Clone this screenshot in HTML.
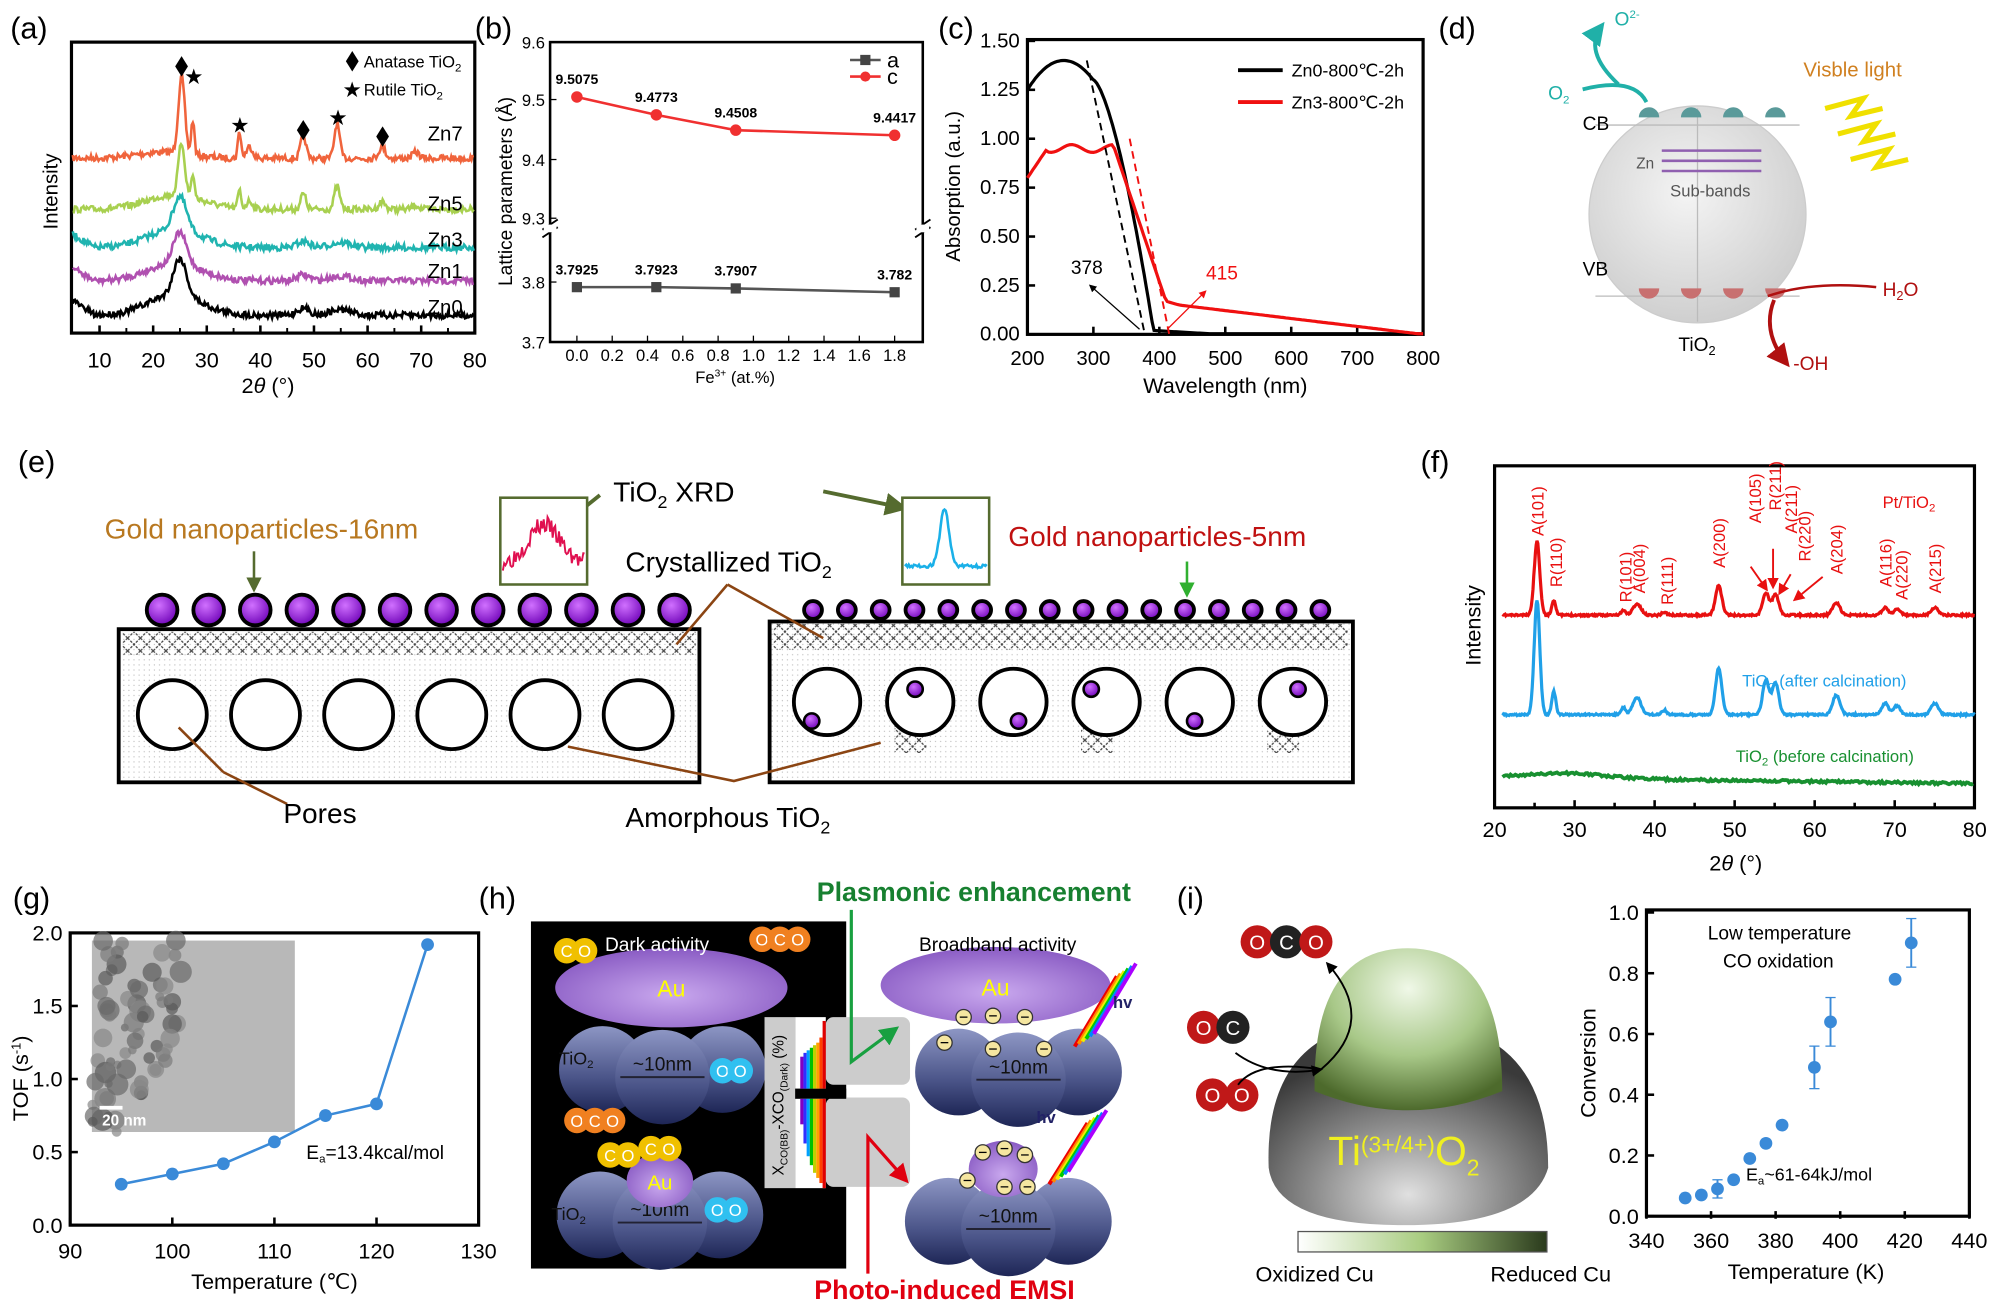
<!DOCTYPE html>
<html><head><meta charset="utf-8"><style>
html,body{margin:0;padding:0;background:#fff;}
svg{display:block;font-family:"Liberation Sans",sans-serif;}
</style></head><body>
<svg id="s" width="2000" height="1303" viewBox="0 0 1567 1021" preserveAspectRatio="none" xmlns="http://www.w3.org/2000/svg">
<defs>
<radialGradient id="sph" cx="45%" cy="40%" r="60%"><stop offset="0" stop-color="#f4f4f4"/><stop offset="1" stop-color="#cfcfcf"/></radialGradient>
<linearGradient id="ball" x1="0" y1="0" x2="0" y2="1"><stop offset="0" stop-color="#8d96c4"/><stop offset="0.6" stop-color="#4a5488"/><stop offset="1" stop-color="#1e2656"/></linearGradient>
<radialGradient id="au" cx="50%" cy="60%" r="60%"><stop offset="0" stop-color="#c9a8ee"/><stop offset="1" stop-color="#8a5cc4"/></radialGradient>
<radialGradient id="dome" cx="50%" cy="85%" r="70%"><stop offset="0" stop-color="#e0e0e0"/><stop offset="0.5" stop-color="#8a8a8a"/><stop offset="1" stop-color="#3a3a3a"/></radialGradient>
<radialGradient id="cap" cx="50%" cy="25%" r="75%"><stop offset="0" stop-color="#f0f8e8"/><stop offset="0.55" stop-color="#a8c888"/><stop offset="1" stop-color="#4d6a2c"/></radialGradient>
<linearGradient id="cbar" x1="0" x2="1"><stop offset="0" stop-color="#fff"/><stop offset="0.5" stop-color="#a8cc80"/><stop offset="1" stop-color="#2a3a1c"/></linearGradient>
<radialGradient id="pb" cx="40%" cy="35%" r="60%"><stop offset="0" stop-color="#d070ff"/><stop offset="1" stop-color="#7a10c0"/></radialGradient>
<pattern id="hatch" width="10" height="10" patternUnits="userSpaceOnUse"><path d="M0 0L10 10M10 0L0 10" stroke="#444" stroke-width="1" stroke-dasharray="2 1"/></pattern>
<pattern id="dots" width="4" height="4" patternUnits="userSpaceOnUse"><rect width="4" height="4" fill="#fff"/><circle cx="1" cy="1" r="0.5" fill="#bbb"/></pattern>
<marker id="ar" viewBox="0 0 10 10" refX="8" refY="5" markerWidth="6" markerHeight="6" orient="auto"><path d="M0 0L10 5L0 10z" fill="context-stroke"/></marker>
</defs>
<g id="g"></g>
</svg>
<script>
const g=document.getElementById('g');let H='';
const add=s=>H+=s;
let seed=7;const rnd=()=>{seed=(seed*16807)%2147483647;return seed/2147483647;};
const T=(x,y,t,o)=>add(`<text x="${x}" y="${y}" ${o||''}>${t}</text>`);
function curve(xs,ys,f,base,amp,noise,col,w,x0,x1,step){let d='';for(let v=x0;v<=x1;v+=step){const y=base-amp*f(v)+(rnd()-0.5)*noise;d+=(d?'L':'M')+(xs(v)).toFixed(1)+' '+y.toFixed(1);}add(`<path d="${d}" fill="none" stroke="${col}" stroke-width="${w}"/>`);}
const gs=(v,c,w)=>Math.exp(-((v-c)*(v-c))/(2*w*w));
// ---------- (a)
T(8,30,'(a)','font-size="24"');
add('<rect x="56" y="33" width="316" height="228" fill="none" stroke="#000" stroke-width="2.5"/>');
const xa=v=>78+(v-10)*4.2;
for(let v=10;v<=80;v+=10){add(`<line x1="${xa(v)}" y1="261" x2="${xa(v)}" y2="255" stroke="#000" stroke-width="2"/>`);T(xa(v),288,v,'font-size="17" text-anchor="middle"');}
for(let v=15;v<80;v+=10)add(`<line x1="${xa(v)}" y1="261" x2="${xa(v)}" y2="257" stroke="#000" stroke-width="1.5"/>`);
T(210,308,'2<tspan font-style="italic">θ</tspan> (°)','font-size="17" text-anchor="middle"');
T(45,150,'Intensity','font-size="16" text-anchor="middle" transform="rotate(-90 45 150)"');
const xrdA=(v,s)=>s*(gs(v,25.3,0.6)*1+gs(v,27.4,0.3)*0.45+gs(v,36.1,0.3)*0.35+gs(v,38,0.6)*0.15+gs(v,48,0.5)*0.3+gs(v,54.3,0.5)*0.45+gs(v,62.7,0.6)*0.15+gs(v,69,0.6)*0.08)+gs(v,22,5)*0.08;
const broad=(v)=>gs(v,25,1.2)*0.8+gs(v,24,5)*0.45+gs(v,48,1.2)*0.15+gs(v,55,2)*0.12+(v<9?(9-v)*0.08:0);
curve(xa,null,v=>xrdA(v,1),124,60,5,'#f0643c',2,5,80,0.2);
curve(xa,null,v=>xrdA(v,0.85)*0.6+gs(v,25,5)*0.1,164,80,5,'#a8d050',2,5,80,0.2);
curve(xa,null,v=>broad(v)*0.9,194,36,5,'#20b4b0',2,5,80,0.2);
curve(xa,null,v=>broad(v)*0.85,220,36,5,'#b050b0',2,5,80,0.2);
curve(xa,null,v=>broad(v)*1,247,36,5,'#000',2,5,80,0.2);
[['Zn7',110],['Zn5',165],['Zn3',193],['Zn1',218],['Zn0',246]].forEach(a=>T(335,a[1],a[0],'font-size="16"'));
const dia=(x,y)=>add(`<path d="M${x} ${y-8}L${x+5} ${y}L${x} ${y+8}L${x-5} ${y}z"/>`);
const star=(x,y)=>T(x,y+6,'★','font-size="17" text-anchor="middle"');
dia(xa(25.3),52);star(xa(27.6),60);star(xa(36.2),98);dia(xa(48),102);star(xa(54.5),92);dia(xa(62.8),107);
dia(276,48);T(285,53,'Anatase TiO<tspan font-size="9" dy="3">2</tspan>','font-size="13"');
star(276,70);T(285,75,'Rutile TiO<tspan font-size="9" dy="3">2</tspan>','font-size="13"');
// ---------- (b)
T(372,30,'(b)','font-size="24"');
add('<rect x="431" y="33" width="292" height="235" fill="none" stroke="#000" stroke-width="2"/>');
[['9.6',33],['9.5',78],['9.4',125],['9.3',171],['3.8',221],['3.7',268]].forEach(a=>{T(427,a[1]+5,a[0],'font-size="13" text-anchor="end"');add(`<line x1="431" y1="${a[1]}" x2="436" y2="${a[1]}" stroke="#000"/>`);});
add('<path d="M425 180L437 172M425 186L437 178M717 180L729 172M717 186L729 178" stroke="#000" stroke-width="1.5"/><rect x="426" y="176" width="10" height="6" fill="#fff"/><rect x="718" y="176" width="10" height="6" fill="#fff"/>');
const xb=v=>452+v*138.3;
for(let i=0;i<=9;i++){const v=i*0.2;add(`<line x1="${xb(v)}" y1="268" x2="${xb(v)}" y2="263" stroke="#000"/>`);T(xb(v),283,v.toFixed(1),'font-size="13" text-anchor="middle"');}
T(576,300,'Fe<tspan font-size="8" dy="-5">3+</tspan><tspan dy="5"> (at.%)</tspan>','font-size="13" text-anchor="middle"');
T(401,150,'Lattice parameters (Å)','font-size="15" text-anchor="middle" transform="rotate(-90 401 150)"');
const cp=[[0,76,'9.5075'],[0.45,90,'9.4773'],[0.9,102,'9.4508'],[1.8,106,'9.4417']];
add(`<path d="${cp.map((p,i)=>(i?'L':'M')+xb(p[0])+' '+p[1]).join('')}" stroke="#f03030" stroke-width="2" fill="none"/>`);
cp.forEach(p=>{add(`<circle cx="${xb(p[0])}" cy="${p[1]}" r="4.5" fill="#f03030"/>`);T(xb(p[0]),p[1]-10,p[2],'font-size="11" font-weight="bold" text-anchor="middle"');});
const ap=[[0,225,'3.7925'],[0.45,225,'3.7923'],[0.9,226,'3.7907'],[1.8,229,'3.782']];
add(`<path d="${ap.map((p,i)=>(i?'L':'M')+xb(p[0])+' '+p[1]).join('')}" stroke="#555" stroke-width="2" fill="none"/>`);
ap.forEach(p=>{add(`<rect x="${xb(p[0])-4}" y="${p[1]-4}" width="8" height="8" fill="#444"/>`);T(xb(p[0]),p[1]-10,p[2],'font-size="11" font-weight="bold" text-anchor="middle"');});
add('<line x1="666" y1="47" x2="690" y2="47" stroke="#555" stroke-width="2"/><rect x="674" y="43" width="8" height="8" fill="#444"/><text x="695" y="53" font-size="17">a</text>');
add('<line x1="666" y1="60" x2="690" y2="60" stroke="#f03030" stroke-width="2"/><circle cx="678" cy="60" r="4" fill="#f03030"/><text x="695" y="66" font-size="17">c</text>');
// ---------- (c)
T(735,30,'(c)','font-size="24"');
add('<rect x="805" y="31" width="310" height="231" fill="none" stroke="#000" stroke-width="2.5"/>');
const xc=v=>805+(v-200)*0.5167, yc=v=>262-v*153.3;
for(let v=200;v<=800;v+=100){add(`<line x1="${xc(v)}" y1="262" x2="${xc(v)}" y2="256" stroke="#000" stroke-width="2"/>`);T(xc(v),286,v,'font-size="16" text-anchor="middle"');}
for(let v=0;v<=1.5;v+=0.25){add(`<line x1="805" y1="${yc(v)}" x2="811" y2="${yc(v)}" stroke="#000" stroke-width="2"/>`);T(799,yc(v)+5,v.toFixed(2),'font-size="16" text-anchor="end"');}
T(960,308,'Wavelength (nm)','font-size="17" text-anchor="middle"');
T(752,146,'Absorption (a.u.)','font-size="16" text-anchor="middle" transform="rotate(-90 752 146)"');
let d='';for(let w=200;w<=800;w+=3){let a;if(w<=300)a=1.4-Math.pow((w-255)/55,2)*0.15;else if(w<392)a=1.3*(1-Math.pow((w-300)/92,1.5));else a=Math.max(0,0.02-(w-392)*0.0002);a=Math.max(a,0.003);d+=(d?'L':'M')+xc(w).toFixed(1)+' '+yc(a).toFixed(1);}
add(`<path d="${d}" stroke="#000" stroke-width="2.5" fill="none"/>`);
d='';for(let w=200;w<=800;w+=4){let a;if(w<230)a=0.8+(w-200)/30*0.15;else if(w<330)a=0.95+0.02*Math.sin(w/10);else if(w<410)a=0.97-(w-330)/80*0.8;else if(w<430)a=0.17-(w-410)/20*0.02;else a=0.15*(800-w)/370;d+=(d?'L':'M')+xc(w).toFixed(1)+' '+yc(Math.max(a,0.003)).toFixed(1);}
add(`<path d="${d}" stroke="#f01010" stroke-width="2.5" fill="none"/>`);
add(`<line x1="${xc(290)}" y1="${yc(1.4)}" x2="${xc(378)}" y2="262" stroke="#000" stroke-dasharray="6 4" stroke-width="1.5"/>`);
add(`<line x1="${xc(355)}" y1="${yc(1.0)}" x2="${xc(415)}" y2="262" stroke="#f01010" stroke-dasharray="6 4" stroke-width="1.5"/>`);
add(`<line x1="${xc(370)}" y1="258" x2="${xc(295)}" y2="${yc(0.25)}" stroke="#000" marker-end="url(#ar)"/>`);
T(xc(290),yc(0.27)-6,'378','font-size="15" text-anchor="middle"');
add(`<line x1="${xc(412)}" y1="258" x2="${xc(470)}" y2="${yc(0.22)}" stroke="#f01010" marker-end="url(#ar)"/>`);
T(xc(495),yc(0.28),'415','font-size="15" fill="#f01010" text-anchor="middle"');
add('<line x1="970" y1="55" x2="1005" y2="55" stroke="#000" stroke-width="3"/><text x="1012" y="60" font-size="14">Zn0-800℃-2h</text>');
add('<line x1="970" y1="80" x2="1005" y2="80" stroke="#f01010" stroke-width="3"/><text x="1012" y="85" font-size="14">Zn3-800℃-2h</text>');
// ---------- (d)
T(1127,30,'(d)','font-size="24"');
add('<circle cx="1330" cy="168" r="85" fill="url(#sph)" stroke="#ccc"/>');
add('<line x1="1330" y1="85" x2="1330" y2="252" stroke="#bbb"/><line x1="1250" y1="98" x2="1410" y2="98" stroke="#bbb"/><line x1="1250" y1="232" x2="1410" y2="232" stroke="#bbb"/>');
for(let i=0;i<4;i++){add(`<path d="M${1284+i*33} 92a8 8 0 0 1 16 0z" fill="#5a9a9a"/>`);add(`<path d="M${1284+i*33} 226a8 8 0 0 0 16 0z" fill="#c87070"/>`);}
add('<line x1="1302" y1="118" x2="1380" y2="118" stroke="#9060b0" stroke-width="2"/><line x1="1302" y1="126" x2="1380" y2="126" stroke="#9060b0" stroke-width="2"/><line x1="1302" y1="134" x2="1380" y2="134" stroke="#9060b0" stroke-width="2"/>');
T(1282,132,'Zn','font-size="12" fill="#555"');T(1340,154,'Sub-bands','font-size="13" fill="#555" text-anchor="middle"');
T(1240,102,'CB','font-size="15"');T(1240,216,'VB','font-size="15"');
T(1315,275,'TiO<tspan font-size="10" dy="3">2</tspan>','font-size="15"');
add('<path d="M1240 70Q1280 60 1290 80" stroke="#20b0a8" stroke-width="3" fill="none"/><path d="M1268 66Q1240 40 1255 20" stroke="#20b0a8" stroke-width="3" fill="none" marker-end="url(#ar)"/>');
T(1213,78,'O<tspan font-size="9" dy="3">2</tspan>','font-size="15" fill="#20b0a8"');T(1265,20,'O<tspan font-size="9" dy="-6">2-</tspan>','font-size="15" fill="#20b0a8"');
T(1413,60,'Visble light','font-size="16" fill="#d08020"');
for(let i=0;i<3;i++)add(`<path d="M${1430+i*10} ${85+i*20}l30 -8l-10 14l25 -6" stroke="#f0e000" stroke-width="4" fill="none"/>`);
add('<path d="M1390 235Q1380 260 1400 285" stroke="#b01010" stroke-width="3" fill="none" marker-end="url(#ar)"/><path d="M1385 232Q1420 220 1470 225" stroke="#b01010" stroke-width="2" fill="none"/>');
T(1475,232,'H<tspan font-size="10" dy="3">2</tspan><tspan dy="-3">O</tspan>','font-size="15" fill="#b01010"');T(1405,290,'-OH','font-size="15" fill="#b01010"');
// ---------- (e)
T(14,370,'(e)','font-size="24"');
add('<rect x="93" y="493" width="455" height="120" fill="url(#dots)" stroke="#000" stroke-width="3"/>');
add('<rect x="603" y="487" width="457" height="126" fill="url(#dots)" stroke="#000" stroke-width="3"/>');
add('<rect x="96" y="495" width="449" height="18" fill="url(#hatch)"/><rect x="606" y="489" width="450" height="20" fill="url(#hatch)"/>');
for(let i=0;i<12;i++)add(`<circle cx="${127+i*36.5}" cy="478" r="12" fill="url(#pb)" stroke="#000" stroke-width="3"/>`);
for(let i=0;i<16;i++)add(`<circle cx="${637+i*26.5}" cy="478" r="7" fill="url(#pb)" stroke="#000" stroke-width="3"/>`);
for(let i=0;i<6;i++)add(`<circle cx="${135+i*73}" cy="560" r="27" fill="#fff" stroke="#000" stroke-width="3"/>`);
for(let i=0;i<6;i++){const cx=648+i*73;add(`<rect x="${cx-20}" y="${540+(i%2)*25}" width="25" height="25" fill="url(#hatch)"/><circle cx="${cx}" cy="550" r="26" fill="#fff" stroke="#000" stroke-width="3"/><circle cx="${cx-12+(i%3)*8}" cy="${565-(i%2)*25}" r="6" fill="url(#pb)" stroke="#000" stroke-width="2"/>`);}
T(82,422,'Gold nanoparticles-16nm','font-size="22" fill="#b87820"');
T(790,428,'Gold nanoparticles-5nm','font-size="22" fill="#c01010"');
add('<line x1="199" y1="432" x2="199" y2="462" stroke="#556b2f" stroke-width="2" marker-end="url(#ar)"/><line x1="930" y1="440" x2="930" y2="466" stroke="#30b030" stroke-width="2" marker-end="url(#ar)"/>');
T(528,393,'TiO<tspan font-size="14" dy="5">2</tspan><tspan dy="-5"> XRD</tspan>','font-size="22" text-anchor="middle"');
add('<line x1="470" y1="388" x2="430" y2="420" stroke="#556b2f" stroke-width="3" marker-end="url(#ar)"/><line x1="645" y1="385" x2="708" y2="398" stroke="#556b2f" stroke-width="3" marker-end="url(#ar)"/>');
add('<rect x="392" y="390" width="68" height="68" fill="#fff" stroke="#556b2f" stroke-width="2"/><rect x="707" y="390" width="68" height="68" fill="#fff" stroke="#556b2f" stroke-width="2"/>');
seed=3;d='';for(let i=0;i<=64;i++){const x=394+i,y=448-30*gs(i,32,12)-rnd()*14;d+=(d?'L':'M')+x+' '+y.toFixed(1);}add(`<path d="${d}" stroke="#e01050" stroke-width="1.5" fill="none"/>`);
d='';for(let i=0;i<=64;i++){const x=709+i,y=445-45*gs(i,31,3.5)-rnd()*3;d+=(d?'L':'M')+x+' '+y.toFixed(1);}add(`<path d="${d}" stroke="#1ab0e8" stroke-width="2" fill="none"/>`);
T(490,448,'Crystallized TiO<tspan font-size="14" dy="5">2</tspan>','font-size="22"');
add('<path d="M570 458L530 505M570 458L645 500" stroke="#8b4513" stroke-width="2" fill="none"/><path d="M445 585L575 612L690 582M175 605L225 630M140 570L175 605" stroke="#8b4513" stroke-width="2" fill="none"/>');
T(222,645,'Pores','font-size="22"');T(490,648,'Amorphous TiO<tspan font-size="14" dy="5">2</tspan>','font-size="22"');
// ---------- (f)
T(1113,370,'(f)','font-size="24"');
add('<rect x="1171" y="365" width="376" height="268" fill="none" stroke="#000" stroke-width="2.5"/>');
const xf=v=>1171+(v-20)*6.27;
for(let v=20;v<=80;v+=10){add(`<line x1="${xf(v)}" y1="633" x2="${xf(v)}" y2="627" stroke="#000" stroke-width="2"/>`);T(xf(v),656,v,'font-size="17" text-anchor="middle"');}
for(let v=25;v<80;v+=10)add(`<line x1="${xf(v)}" y1="633" x2="${xf(v)}" y2="629" stroke="#000" stroke-width="2"/>`);
T(1360,682,'2<tspan font-style="italic">θ</tspan> (°)','font-size="17" text-anchor="middle"');
T(1160,490,'Intensity','font-size="17" text-anchor="middle" transform="rotate(-90 1160 490)"');
const xrdF=v=>gs(v,25.3,0.35)+gs(v,27.4,0.25)*0.2+gs(v,36.1,0.3)*0.06+gs(v,37.8,0.5)*0.15+gs(v,41.2,0.3)*0.04+gs(v,48,0.4)*0.4+gs(v,53.9,0.4)*0.3+gs(v,55.1,0.4)*0.28+gs(v,62.7,0.45)*0.17+gs(v,68.8,0.4)*0.1+gs(v,70.3,0.4)*0.08+gs(v,75,0.45)*0.1;
seed=11;curve(xf,null,xrdF,482,58,1.5,'#e81010',2.5,21,80,0.1);
curve(xf,null,xrdF,560,90,1.5,'#20a0e8',2.5,21,80,0.1);
curve(xf,null,v=>gs(v,29,5)*0.5+(80-v)/60*0.6,614,8,2,'#189030',3,21,80,0.2);
const lab=[['A(101)',25.3,420],['R(110)',27.6,460],['R(101)',36.3,472],['A(004)',38,465],['R(111)',41.5,474],['A(200)',48,445],['A(105)',52.5,410],['R(211)',55,400],['A(211)',57,418],['R(220)',58.7,440],['A(204)',62.7,450],['A(116)',68.8,460],['A(220)',70.8,470],['A(215)',75,465]];
lab.forEach(l=>T(xf(l[1])+5,l[2],l[0],`font-size="13" fill="#e81010" transform="rotate(-90 ${xf(l[1])+5} ${l[2]})"`));
add(`<g stroke="#e81010" stroke-width="1.5" marker-end="url(#ar)"><line x1="${xf(52)}" y1="444" x2="${xf(54)}" y2="462"/><line x1="${xf(54.8)}" y1="430" x2="${xf(54.8)}" y2="460"/><line x1="${xf(57)}" y1="450" x2="${xf(55.6)}" y2="465"/><line x1="${xf(61)}" y1="452" x2="${xf(57.5)}" y2="470"/></g>`);
T(1475,398,'Pt/TiO<tspan font-size="9" dy="3">2</tspan>','font-size="13" fill="#e81010"');
T(1365,538,'TiO<tspan font-size="9" dy="3">2</tspan><tspan dy="-3"> (after calcination)</tspan>','font-size="13" fill="#20a0e8"');
T(1360,597,'TiO<tspan font-size="9" dy="3">2</tspan><tspan dy="-3"> (before calcination)</tspan>','font-size="13" fill="#189030"');
// ---------- (g)
T(10,712,'(g)','font-size="24"');
add('<rect x="55" y="731" width="320" height="229" fill="none" stroke="#000" stroke-width="2.5"/>');
const xg=v=>55+(v-90)*8, yg=v=>960-v*114.5;
for(let v=90;v<=130;v+=10){add(`<line x1="${xg(v)}" y1="960" x2="${xg(v)}" y2="954" stroke="#000" stroke-width="2"/>`);T(xg(v),986,v,'font-size="17" text-anchor="middle"');}
for(let v=0;v<=2;v+=0.5){add(`<line x1="55" y1="${yg(v)}" x2="61" y2="${yg(v)}" stroke="#000" stroke-width="2"/>`);T(49,yg(v)+6,v.toFixed(1),'font-size="17" text-anchor="end"');}
T(215,1010,'Temperature (℃)','font-size="17" text-anchor="middle"');
T(14,845,'TOF (s<tspan font-size="10" dy="-6">-1</tspan><tspan dy="6">)</tspan>','font-size="17" text-anchor="middle" transform="rotate(-90 14 845)" dy="8"');
add('<rect x="72" y="737" width="159" height="150" fill="#b8b8b8"/>');
seed=5;for(let i=0;i<70;i++){const y=737+rnd()*150;const lim=72+Math.max(20,100-(y-737)*0.45);const x=72+rnd()*(lim-72);add(`<circle cx="${x.toFixed(1)}" cy="${y.toFixed(1)}" r="${(3+rnd()*6).toFixed(1)}" fill="#${['6a6a6a','7a7a7a','5a5a5a','888'][i%4]}" opacity="0.7"/>`);}
add('<line x1="78" y1="868" x2="96" y2="868" stroke="#fff" stroke-width="3"/>');T(80,882,'20 nm','font-size="12" fill="#fff" font-weight="bold"');
const gp=[[95,.28],[100,.35],[105,.42],[110,.57],[115,.75],[120,.83],[125,1.92]];
add(`<path d="${gp.map((p,i)=>(i?'L':'M')+xg(p[0])+' '+yg(p[1])).join('')}" stroke="#3a8ad8" stroke-width="2" fill="none"/>`);
gp.forEach(p=>add(`<circle cx="${xg(p[0])}" cy="${yg(p[1])}" r="5" fill="#3a8ad8"/>`));
T(240,908,'E<tspan font-size="9" dy="3">a</tspan><tspan dy="-3">=13.4kcal/mol</tspan>','font-size="15"');
// ---------- (h)
T(375,712,'(h)','font-size="24"');
add('<rect x="416" y="722" width="247" height="272" fill="#000"/>');
const tio=(cx,cy)=>{add(`<circle cx="${cx-47}" cy="${cy}" r="34" fill="url(#ball)"/><circle cx="${cx+47}" cy="${cy}" r="34" fill="url(#ball)"/><circle cx="${cx}" cy="${cy+6}" r="37" fill="url(#ball)"/><line x1="${cx-33}" y1="${cy+6}" x2="${cx+33}" y2="${cy+6}" stroke="#223" stroke-width="1.5"/><text x="${cx}" y="${cy+1}" font-size="15" text-anchor="middle" fill="#111">~10nm</text>`);};
tio(519,838);
add('<ellipse cx="526" cy="774" rx="91" ry="31" fill="url(#au)"/><text x="526" y="781" font-size="18" fill="#ff0" text-anchor="middle">Au</text>');
tio(517,952);
add('<ellipse cx="517" cy="925" rx="26" ry="21" fill="url(#au)"/><text x="517" y="932" font-size="16" fill="#ff0" text-anchor="middle">Au</text>');
tio(798,840);
add('<ellipse cx="780" cy="772" rx="90" ry="30" fill="url(#au)"/><text x="780" y="780" font-size="18" fill="#ff0" text-anchor="middle">Au</text>');
tio(790,957);
add('<ellipse cx="786" cy="916" rx="27" ry="22" fill="url(#au)"/>');
T(474,745,'Dark activity','font-size="15" fill="#fff"');T(720,745,'Broadband activity','font-size="15"');
T(438,834,'TiO<tspan font-size="9" dy="3">2</tspan>','font-size="14" fill="#111"');T(432,956,'TiO<tspan font-size="9" dy="3">2</tspan>','font-size="14" fill="#111"');
const mol=(x,y,a,cols)=>{a.forEach((t,i)=>{add(`<circle cx="${x+i*14}" cy="${y}" r="10" fill="${cols}"/><text x="${x+i*14}" y="${y+5}" font-size="13" fill="#fff" text-anchor="middle">${t}</text>`);});};
mol(444,745,['C','O'],'#f0c000');mol(597,736,['O','C','O'],'#f08020');mol(566,839,['O','O'],'#30c0f0');
mol(452,878,['O','C','O'],'#f08020');mol(478,905,['C','O'],'#f0c000');mol(510,900,['C','O'],'#f0c000');mol(562,948,['O','O'],'#30c0f0');
add('<rect x="599" y="797" width="24" height="134" fill="#ccc"/><rect x="623" y="797" width="24" height="134" fill="#fff"/><rect x="647" y="797" width="66" height="53" fill="#ccc" rx="6"/><rect x="647" y="860" width="66" height="70" fill="#ccc" rx="6"/><rect x="623" y="853" width="40" height="8" fill="#000"/>');
['#8000c0','#3030ff','#00a0ff','#00c000','#c0d000','#ffa000','#ff4000','#e00000'].forEach((c,i)=>{const h=[25,28,30,32,34,36,40,53][i];const h2=[20,35,45,52,58,62,66,70][i];add(`<rect x="${627+i*2.5}" y="${853-h}" width="2.5" height="${h}" fill="${c}"/><rect x="${627+i*2.5}" y="861" width="2.5" height="${h2}" fill="${c}"/>`);});
T(614,866,'X<tspan font-size="8" dy="3">CO(BB)</tspan><tspan dy="-3">-XCO</tspan><tspan font-size="8" dy="3">(Dark)</tspan><tspan dy="-3"> (%)</tspan>','font-size="12" text-anchor="middle" transform="rotate(-90 614 866)"');
T(763,706,'Plasmonic enhancement','font-size="21" fill="#178030" font-weight="bold" text-anchor="middle"');
T(740,1018,'Photo-induced EMSI','font-size="21" fill="#e00010" font-weight="bold" text-anchor="middle"');
add('<path d="M667 713L667 832L702 806" stroke="#18a040" stroke-width="2.5" fill="none" marker-end="url(#ar)"/><path d="M680 998L680 891L710 925" stroke="#e00010" stroke-width="2.5" fill="none" marker-end="url(#ar)"/>');
[[755,797],[778,796],[803,797],[740,817],[778,822],[818,822],[770,903],[787,900],[803,905],[758,925],[787,930],[805,930]].forEach(p=>add(`<circle cx="${p[0]}" cy="${p[1]}" r="6" fill="#f5e6a0" stroke="#333"/><line x1="${p[0]-3}" y1="${p[1]}" x2="${p[0]+3}" y2="${p[1]}" stroke="#000"/>`));
['#e00','#f80','#ee0','#0c0','#08f','#a0f'].forEach((c,i)=>{add(`<line x1="${842+i*3}" y1="${820-i*2}" x2="${875+i*3}" y2="${765-i*2}" stroke="${c}" stroke-width="3"/><line x1="${822+i*3}" y1="${928-i*2}" x2="${852+i*3}" y2="${880-i*2}" stroke="${c}" stroke-width="3"/>`);});
T(872,790,'hv','font-size="13" fill="#226" font-weight="bold"');T(812,880,'hv','font-size="13" fill="#226" font-weight="bold"');
// ---------- (i)
T(922,712,'(i)','font-size="24"');
add('<path d="M994 915Q990 800 1100 800Q1213 800 1213 915Q1200 960 1100 960Q1000 960 994 915z" fill="url(#dome)"/>');
add('<path d="M1030 855Q1028 743 1103 743Q1177 743 1177 855Q1103 885 1030 855z" fill="url(#cap)"/>');
T(1100,918,'Ti<tspan font-size="18" dy="-10">(3+/4+)</tspan><tspan dy="10">O</tspan><tspan font-size="18" dy="8">2</tspan>','font-size="32" fill="#f0f020" text-anchor="middle" dy="-5"');
const mb=(x,y,t)=>{t.forEach((s,i)=>add(`<circle cx="${x+i*23}" cy="${y}" r="13" fill="${s=='O'?'#c01818':'#222'}"/><text x="${x+i*23}" y="${y+6}" font-size="16" fill="#fff" text-anchor="middle">${s}</text>`));};
mb(985,738,['O','C','O']);mb(943,805,['O','C']);mb(950,858,['O','O']);
add('<path d="M968 825Q995 845 1035 838" stroke="#000" stroke-width="1.5" fill="none" marker-end="url(#ar)"/><path d="M970 850Q985 830 1035 838Q1080 800 1040 755" stroke="#000" stroke-width="1.5" fill="none" marker-end="url(#ar)"/>');
add('<rect x="1017" y="965" width="195" height="16" fill="url(#cbar)" stroke="#555"/>');
T(1030,1004,'Oxidized Cu','font-size="17" text-anchor="middle"');T(1215,1004,'Reduced Cu','font-size="17" text-anchor="middle"');
add('<rect x="1290" y="713" width="253" height="240" fill="none" stroke="#000" stroke-width="2.5"/>');
const xi=v=>1290+(v-340)*2.53, yi=v=>953-v*238;
for(let v=340;v<=440;v+=20){add(`<line x1="${xi(v)}" y1="955" x2="${xi(v)}" y2="949" stroke="#000" stroke-width="2"/>`);T(xi(v),978,v,'font-size="17" text-anchor="middle"');}
for(let v=0;v<=1;v+=0.2){add(`<line x1="1290" y1="${yi(v)}" x2="1296" y2="${yi(v)}" stroke="#000" stroke-width="2"/>`);T(1284,yi(v)+6,v.toFixed(1),'font-size="17" text-anchor="end"');}
T(1415,1002,'Temperature (K)','font-size="17" text-anchor="middle"');
T(1250,833,'Conversion','font-size="17" text-anchor="middle" transform="rotate(-90 1250 833)"');
[[352,.06,0],[357,.07,0],[362,.09,.03],[367,.12,0],[372,.19,0],[377,.24,0],[382,.3,0],[392,.49,.07],[397,.64,.08],[417,.78,0],[422,.9,.08]].forEach(p=>{if(p[2])add(`<line x1="${xi(p[0])}" y1="${yi(p[1]-p[2])}" x2="${xi(p[0])}" y2="${yi(p[1]+p[2])}" stroke="#3a8ad8" stroke-width="1.5"/><line x1="${xi(p[0])-4}" y1="${yi(p[1]-p[2])}" x2="${xi(p[0])+4}" y2="${yi(p[1]-p[2])}" stroke="#3a8ad8"/><line x1="${xi(p[0])-4}" y1="${yi(p[1]+p[2])}" x2="${xi(p[0])+4}" y2="${yi(p[1]+p[2])}" stroke="#3a8ad8"/>`);add(`<circle cx="${xi(p[0])}" cy="${yi(p[1])}" r="5" fill="#3a8ad8"/>`);});
T(1338,736,'Low temperature','font-size="15"');T(1350,758,'CO oxidation','font-size="15"');
T(1368,925,'E<tspan font-size="9" dy="3">a</tspan><tspan dy="-3">~61-64kJ/mol</tspan>','font-size="14"');
g.innerHTML=H;
</script>
</body></html>
